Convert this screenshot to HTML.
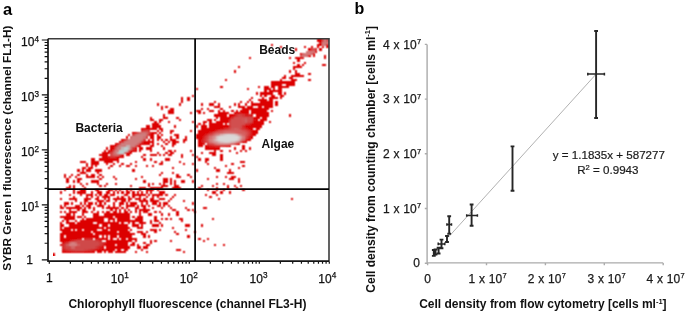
<!DOCTYPE html>
<html><head><meta charset="utf-8"><title>Flow cytometry figure</title>
<style>html,body{margin:0;padding:0;background:#fff;}svg{display:block;}</style></head>
<body><svg width="685" height="313" viewBox="0 0 685 313" font-family="Liberation Sans, Arial, sans-serif">
<rect width="685" height="313" fill="#fff"/>
<defs><filter id="bl" x="0" y="0" width="1" height="1"><feConvolveMatrix order="3" kernelMatrix="1 2 1 2 4 2 1 2 1" divisor="16" edgeMode="duplicate"/></filter></defs>
<g shape-rendering="crispEdges" filter="url(#bl)">
<path d="M317.2 39.6h4.4v2.2h-4.4zM271.0 44.0h2.2v2.2h-2.2zM317.2 44.0h4.4v2.2h-4.4zM279.8 46.2h2.2v2.2h-2.2zM304.0 46.2h2.2v2.2h-2.2zM310.6 46.2h2.2v2.2h-2.2zM317.2 46.2h2.2v2.2h-2.2zM321.6 46.2h2.2v2.2h-2.2zM326.0 46.2h2.2v2.2h-2.2zM295.2 48.4h2.2v2.2h-2.2zM308.4 48.4h2.2v2.2h-2.2zM319.4 48.4h2.2v2.2h-2.2zM315.0 50.6h2.2v2.2h-2.2zM299.6 52.8h2.2v2.2h-2.2zM312.8 52.8h2.2v2.2h-2.2zM308.4 55.0h2.2v2.2h-2.2zM312.8 55.0h2.2v2.2h-2.2zM323.8 55.0h2.2v2.2h-2.2zM249.0 57.2h2.2v2.2h-2.2zM288.6 57.2h2.2v2.2h-2.2zM295.2 57.2h4.4v2.2h-4.4zM323.8 57.2h2.2v2.2h-2.2zM297.4 59.4h2.2v2.2h-2.2zM293.0 61.6h2.2v2.2h-2.2zM304.0 61.6h2.2v2.2h-2.2zM297.4 63.8h2.2v2.2h-2.2zM301.8 63.8h2.2v2.2h-2.2zM321.6 63.8h4.4v2.2h-4.4zM238.0 66.0h2.2v2.2h-2.2zM293.0 66.0h8.8v2.2h-8.8zM293.0 68.2h2.2v2.2h-2.2zM233.6 70.4h2.2v2.2h-2.2zM288.6 70.4h2.2v2.2h-2.2zM295.2 70.4h2.2v2.2h-2.2zM295.2 72.6h4.4v2.2h-4.4zM308.4 72.6h2.2v2.2h-2.2zM284.2 74.8h2.2v2.2h-2.2zM290.8 74.8h13.2v2.2h-13.2zM282.0 77.0h4.4v2.2h-4.4zM288.6 77.0h4.4v2.2h-4.4zM224.8 79.2h2.2v2.2h-2.2zM279.8 79.2h2.2v2.2h-2.2zM290.8 79.2h6.6v2.2h-6.6zM308.4 79.2h2.2v2.2h-2.2zM271.0 81.4h24.2v2.2h-24.2zM271.0 83.6h11.0v2.2h-11.0zM286.4 83.6h8.8v2.2h-8.8zM220.4 85.8h2.2v2.2h-2.2zM257.8 85.8h2.2v2.2h-2.2zM264.4 85.8h4.4v2.2h-4.4zM271.0 85.8h4.4v2.2h-4.4zM277.6 85.8h11.0v2.2h-11.0zM196.2 88.0h2.2v2.2h-2.2zM246.8 88.0h2.2v2.2h-2.2zM264.4 88.0h6.6v2.2h-6.6zM273.2 88.0h2.2v2.2h-2.2zM277.6 88.0h4.4v2.2h-4.4zM264.4 90.2h2.2v2.2h-2.2zM268.8 90.2h13.2v2.2h-13.2zM255.6 92.4h2.2v2.2h-2.2zM260.0 92.4h13.2v2.2h-13.2zM277.6 92.4h4.4v2.2h-4.4zM284.2 92.4h2.2v2.2h-2.2zM191.8 94.6h2.2v2.2h-2.2zM260.0 94.6h2.2v2.2h-2.2zM264.4 94.6h2.2v2.2h-2.2zM271.0 94.6h4.4v2.2h-4.4zM279.8 94.6h4.4v2.2h-4.4zM180.8 96.8h2.2v2.2h-2.2zM187.4 96.8h2.2v2.2h-2.2zM251.2 96.8h2.2v2.2h-2.2zM262.2 96.8h2.2v2.2h-2.2zM268.8 96.8h8.8v2.2h-8.8zM279.8 96.8h2.2v2.2h-2.2zM180.8 99.0h2.2v2.2h-2.2zM187.4 99.0h2.2v2.2h-2.2zM249.0 99.0h2.2v2.2h-2.2zM257.8 99.0h8.8v2.2h-8.8zM268.8 99.0h4.4v2.2h-4.4zM180.8 101.2h2.2v2.2h-2.2zM213.8 101.2h2.2v2.2h-2.2zM240.2 101.2h2.2v2.2h-2.2zM246.8 101.2h2.2v2.2h-2.2zM251.2 101.2h2.2v2.2h-2.2zM260.0 101.2h13.2v2.2h-13.2zM275.4 101.2h2.2v2.2h-2.2zM156.6 103.4h2.2v2.2h-2.2zM178.6 103.4h2.2v2.2h-2.2zM200.6 103.4h2.2v2.2h-2.2zM209.4 103.4h4.4v2.2h-4.4zM218.2 103.4h2.2v2.2h-2.2zM233.6 103.4h2.2v2.2h-2.2zM238.0 103.4h2.2v2.2h-2.2zM244.6 103.4h2.2v2.2h-2.2zM251.2 103.4h22.0v2.2h-22.0zM275.4 103.4h2.2v2.2h-2.2zM161.0 105.6h2.2v2.2h-2.2zM165.4 105.6h2.2v2.2h-2.2zM213.8 105.6h6.6v2.2h-6.6zM229.2 105.6h2.2v2.2h-2.2zM238.0 105.6h6.6v2.2h-6.6zM246.8 105.6h6.6v2.2h-6.6zM257.8 105.6h4.4v2.2h-4.4zM264.4 105.6h8.8v2.2h-8.8zM161.0 107.8h2.2v2.2h-2.2zM169.8 107.8h4.4v2.2h-4.4zM200.6 107.8h2.2v2.2h-2.2zM207.2 107.8h2.2v2.2h-2.2zM220.4 107.8h2.2v2.2h-2.2zM242.4 107.8h26.4v2.2h-26.4zM167.6 110.0h6.6v2.2h-6.6zM196.2 110.0h4.4v2.2h-4.4zM209.4 110.0h4.4v2.2h-4.4zM218.2 110.0h2.2v2.2h-2.2zM222.6 110.0h2.2v2.2h-2.2zM231.4 110.0h2.2v2.2h-2.2zM235.8 110.0h2.2v2.2h-2.2zM240.2 110.0h8.8v2.2h-8.8zM251.2 110.0h15.4v2.2h-15.4zM271.0 110.0h2.2v2.2h-2.2zM167.6 112.2h6.6v2.2h-6.6zM189.6 112.2h2.2v2.2h-2.2zM198.4 112.2h2.2v2.2h-2.2zM202.8 112.2h2.2v2.2h-2.2zM218.2 112.2h11.0v2.2h-11.0zM233.6 112.2h6.6v2.2h-6.6zM242.4 112.2h6.6v2.2h-6.6zM251.2 112.2h17.6v2.2h-17.6zM163.2 114.4h2.2v2.2h-2.2zM213.8 114.4h13.2v2.2h-13.2zM229.2 114.4h4.4v2.2h-4.4zM255.6 114.4h13.2v2.2h-13.2zM288.6 114.4h2.2v2.2h-2.2zM150.0 116.6h2.2v2.2h-2.2zM163.2 116.6h4.4v2.2h-4.4zM176.4 116.6h2.2v2.2h-2.2zM216.0 116.6h2.2v2.2h-2.2zM220.4 116.6h11.0v2.2h-11.0zM253.4 116.6h6.6v2.2h-6.6zM262.2 116.6h4.4v2.2h-4.4zM150.0 118.8h4.4v2.2h-4.4zM158.8 118.8h4.4v2.2h-4.4zM178.6 118.8h2.2v2.2h-2.2zM207.2 118.8h4.4v2.2h-4.4zM213.8 118.8h2.2v2.2h-2.2zM220.4 118.8h8.8v2.2h-8.8zM255.6 118.8h2.2v2.2h-2.2zM260.0 118.8h6.6v2.2h-6.6zM154.4 121.0h2.2v2.2h-2.2zM158.8 121.0h2.2v2.2h-2.2zM167.6 121.0h2.2v2.2h-2.2zM191.8 121.0h2.2v2.2h-2.2zM202.8 121.0h4.4v2.2h-4.4zM209.4 121.0h2.2v2.2h-2.2zM216.0 121.0h11.0v2.2h-11.0zM253.4 121.0h11.0v2.2h-11.0zM268.8 121.0h2.2v2.2h-2.2zM152.2 123.2h6.6v2.2h-6.6zM198.4 123.2h2.2v2.2h-2.2zM202.8 123.2h2.2v2.2h-2.2zM209.4 123.2h13.2v2.2h-13.2zM224.8 123.2h2.2v2.2h-2.2zM251.2 123.2h13.2v2.2h-13.2zM145.6 125.4h4.4v2.2h-4.4zM152.2 125.4h8.8v2.2h-8.8zM174.2 125.4h2.2v2.2h-2.2zM196.2 125.4h2.2v2.2h-2.2zM200.6 125.4h6.6v2.2h-6.6zM209.4 125.4h19.8v2.2h-19.8zM244.6 125.4h17.6v2.2h-17.6zM141.2 127.6h15.4v2.2h-15.4zM158.8 127.6h4.4v2.2h-4.4zM200.6 127.6h19.8v2.2h-19.8zM249.0 127.6h4.4v2.2h-4.4zM255.6 127.6h4.4v2.2h-4.4zM156.6 129.8h2.2v2.2h-2.2zM161.0 129.8h2.2v2.2h-2.2zM169.8 129.8h4.4v2.2h-4.4zM189.6 129.8h2.2v2.2h-2.2zM198.4 129.8h15.4v2.2h-15.4zM253.4 129.8h4.4v2.2h-4.4zM132.4 132.0h2.2v2.2h-2.2zM152.2 132.0h4.4v2.2h-4.4zM158.8 132.0h2.2v2.2h-2.2zM169.8 132.0h2.2v2.2h-2.2zM198.4 132.0h11.0v2.2h-11.0zM253.4 132.0h4.4v2.2h-4.4zM128.0 134.2h2.2v2.2h-2.2zM150.0 134.2h4.4v2.2h-4.4zM156.6 134.2h2.2v2.2h-2.2zM161.0 134.2h2.2v2.2h-2.2zM174.2 134.2h4.4v2.2h-4.4zM196.2 134.2h8.8v2.2h-8.8zM253.4 134.2h2.2v2.2h-2.2zM125.8 136.4h2.2v2.2h-2.2zM150.0 136.4h4.4v2.2h-4.4zM156.6 136.4h4.4v2.2h-4.4zM169.8 136.4h2.2v2.2h-2.2zM176.4 136.4h2.2v2.2h-2.2zM185.2 136.4h2.2v2.2h-2.2zM196.2 136.4h6.6v2.2h-6.6zM251.2 136.4h2.2v2.2h-2.2zM121.4 138.6h2.2v2.2h-2.2zM147.8 138.6h2.2v2.2h-2.2zM152.2 138.6h2.2v2.2h-2.2zM156.6 138.6h2.2v2.2h-2.2zM161.0 138.6h2.2v2.2h-2.2zM165.4 138.6h2.2v2.2h-2.2zM169.8 138.6h6.6v2.2h-6.6zM183.0 138.6h4.4v2.2h-4.4zM198.4 138.6h2.2v2.2h-2.2zM246.8 138.6h4.4v2.2h-4.4zM119.2 140.8h2.2v2.2h-2.2zM143.4 140.8h11.0v2.2h-11.0zM163.2 140.8h2.2v2.2h-2.2zM167.6 140.8h2.2v2.2h-2.2zM172.0 140.8h6.6v2.2h-6.6zM183.0 140.8h2.2v2.2h-2.2zM198.4 140.8h2.2v2.2h-2.2zM244.6 140.8h2.2v2.2h-2.2zM114.8 143.0h4.4v2.2h-4.4zM141.2 143.0h8.8v2.2h-8.8zM152.2 143.0h2.2v2.2h-2.2zM156.6 143.0h2.2v2.2h-2.2zM165.4 143.0h2.2v2.2h-2.2zM172.0 143.0h4.4v2.2h-4.4zM198.4 143.0h4.4v2.2h-4.4zM238.0 143.0h2.2v2.2h-2.2zM110.4 145.2h6.6v2.2h-6.6zM136.8 145.2h4.4v2.2h-4.4zM150.0 145.2h4.4v2.2h-4.4zM161.0 145.2h2.2v2.2h-2.2zM172.0 145.2h2.2v2.2h-2.2zM198.4 145.2h4.4v2.2h-4.4zM205.0 145.2h2.2v2.2h-2.2zM229.2 145.2h2.2v2.2h-2.2zM242.4 145.2h2.2v2.2h-2.2zM106.0 147.4h2.2v2.2h-2.2zM110.4 147.4h2.2v2.2h-2.2zM134.6 147.4h2.2v2.2h-2.2zM139.0 147.4h4.4v2.2h-4.4zM145.6 147.4h6.6v2.2h-6.6zM163.2 147.4h2.2v2.2h-2.2zM205.0 147.4h15.4v2.2h-15.4zM233.6 147.4h2.2v2.2h-2.2zM242.4 147.4h2.2v2.2h-2.2zM249.0 147.4h2.2v2.2h-2.2zM103.8 149.6h2.2v2.2h-2.2zM108.2 149.6h2.2v2.2h-2.2zM130.2 149.6h6.6v2.2h-6.6zM139.0 149.6h2.2v2.2h-2.2zM150.0 149.6h2.2v2.2h-2.2zM167.6 149.6h4.4v2.2h-4.4zM174.2 149.6h2.2v2.2h-2.2zM189.6 149.6h2.2v2.2h-2.2zM213.8 149.6h2.2v2.2h-2.2zM220.4 149.6h2.2v2.2h-2.2zM229.2 149.6h2.2v2.2h-2.2zM240.2 149.6h2.2v2.2h-2.2zM244.6 149.6h2.2v2.2h-2.2zM101.6 151.8h8.8v2.2h-8.8zM128.0 151.8h4.4v2.2h-4.4zM156.6 151.8h2.2v2.2h-2.2zM165.4 151.8h2.2v2.2h-2.2zM169.8 151.8h4.4v2.2h-4.4zM200.6 151.8h2.2v2.2h-2.2zM209.4 151.8h6.6v2.2h-6.6zM235.8 151.8h2.2v2.2h-2.2zM99.4 154.0h8.8v2.2h-8.8zM125.8 154.0h4.4v2.2h-4.4zM143.4 154.0h2.2v2.2h-2.2zM150.0 154.0h6.6v2.2h-6.6zM158.8 154.0h2.2v2.2h-2.2zM163.2 154.0h2.2v2.2h-2.2zM167.6 154.0h4.4v2.2h-4.4zM180.8 154.0h2.2v2.2h-2.2zM191.8 154.0h2.2v2.2h-2.2zM211.6 154.0h4.4v2.2h-4.4zM220.4 154.0h2.2v2.2h-2.2zM101.6 156.2h6.6v2.2h-6.6zM117.0 156.2h6.6v2.2h-6.6zM141.2 156.2h2.2v2.2h-2.2zM180.8 156.2h2.2v2.2h-2.2zM196.2 156.2h2.2v2.2h-2.2zM220.4 156.2h2.2v2.2h-2.2zM90.6 158.4h4.4v2.2h-4.4zM99.4 158.4h19.8v2.2h-19.8zM143.4 158.4h2.2v2.2h-2.2zM150.0 158.4h2.2v2.2h-2.2zM165.4 158.4h4.4v2.2h-4.4zM198.4 158.4h2.2v2.2h-2.2zM205.0 158.4h4.4v2.2h-4.4zM220.4 158.4h2.2v2.2h-2.2zM79.6 160.6h6.6v2.2h-6.6zM90.6 160.6h8.8v2.2h-8.8zM103.8 160.6h8.8v2.2h-8.8zM117.0 160.6h2.2v2.2h-2.2zM134.6 160.6h2.2v2.2h-2.2zM154.4 160.6h2.2v2.2h-2.2zM161.0 160.6h2.2v2.2h-2.2zM178.6 160.6h2.2v2.2h-2.2zM205.0 160.6h2.2v2.2h-2.2zM240.2 160.6h4.4v2.2h-4.4zM86.2 162.8h2.2v2.2h-2.2zM90.6 162.8h8.8v2.2h-8.8zM106.0 162.8h2.2v2.2h-2.2zM112.6 162.8h2.2v2.2h-2.2zM121.4 162.8h2.2v2.2h-2.2zM130.2 162.8h2.2v2.2h-2.2zM158.8 162.8h4.4v2.2h-4.4zM183.0 162.8h2.2v2.2h-2.2zM191.8 162.8h2.2v2.2h-2.2zM207.2 162.8h2.2v2.2h-2.2zM231.4 162.8h2.2v2.2h-2.2zM86.2 165.0h2.2v2.2h-2.2zM90.6 165.0h2.2v2.2h-2.2zM95.0 165.0h2.2v2.2h-2.2zM110.4 165.0h2.2v2.2h-2.2zM119.2 165.0h2.2v2.2h-2.2zM125.8 165.0h4.4v2.2h-4.4zM134.6 165.0h2.2v2.2h-2.2zM145.6 165.0h2.2v2.2h-2.2zM152.2 165.0h2.2v2.2h-2.2zM224.8 165.0h2.2v2.2h-2.2zM242.4 165.0h2.2v2.2h-2.2zM81.8 167.2h4.4v2.2h-4.4zM88.4 167.2h4.4v2.2h-4.4zM108.2 167.2h2.2v2.2h-2.2zM172.0 167.2h2.2v2.2h-2.2zM213.8 167.2h2.2v2.2h-2.2zM238.0 167.2h2.2v2.2h-2.2zM77.4 169.4h2.2v2.2h-2.2zM81.8 169.4h2.2v2.2h-2.2zM86.2 169.4h4.4v2.2h-4.4zM95.0 169.4h6.6v2.2h-6.6zM132.4 169.4h2.2v2.2h-2.2zM196.2 169.4h2.2v2.2h-2.2zM216.0 169.4h4.4v2.2h-4.4zM229.2 169.4h2.2v2.2h-2.2zM79.6 171.6h6.6v2.2h-6.6zM97.2 171.6h2.2v2.2h-2.2zM161.0 171.6h2.2v2.2h-2.2zM172.0 171.6h2.2v2.2h-2.2zM227.0 171.6h6.6v2.2h-6.6zM64.2 173.8h2.2v2.2h-2.2zM70.8 173.8h2.2v2.2h-2.2zM77.4 173.8h2.2v2.2h-2.2zM86.2 173.8h2.2v2.2h-2.2zM90.6 173.8h4.4v2.2h-4.4zM99.4 173.8h2.2v2.2h-2.2zM158.8 173.8h2.2v2.2h-2.2zM176.4 173.8h2.2v2.2h-2.2zM187.4 173.8h2.2v2.2h-2.2zM64.2 176.0h2.2v2.2h-2.2zM68.6 176.0h2.2v2.2h-2.2zM75.2 176.0h2.2v2.2h-2.2zM86.2 176.0h8.8v2.2h-8.8zM97.2 176.0h2.2v2.2h-2.2zM101.6 176.0h2.2v2.2h-2.2zM112.6 176.0h2.2v2.2h-2.2zM141.2 176.0h2.2v2.2h-2.2zM176.4 176.0h4.4v2.2h-4.4zM189.6 176.0h2.2v2.2h-2.2zM216.0 176.0h2.2v2.2h-2.2zM224.8 176.0h2.2v2.2h-2.2zM231.4 176.0h4.4v2.2h-4.4zM66.4 178.2h2.2v2.2h-2.2zM77.4 178.2h4.4v2.2h-4.4zM99.4 178.2h2.2v2.2h-2.2zM114.8 178.2h2.2v2.2h-2.2zM134.6 178.2h2.2v2.2h-2.2zM163.2 178.2h4.4v2.2h-4.4zM169.8 178.2h2.2v2.2h-2.2zM207.2 178.2h2.2v2.2h-2.2zM229.2 178.2h4.4v2.2h-4.4zM238.0 178.2h2.2v2.2h-2.2zM66.4 180.4h2.2v2.2h-2.2zM73.0 180.4h2.2v2.2h-2.2zM77.4 180.4h2.2v2.2h-2.2zM90.6 180.4h8.8v2.2h-8.8zM143.4 180.4h2.2v2.2h-2.2zM163.2 180.4h4.4v2.2h-4.4zM169.8 180.4h2.2v2.2h-2.2zM174.2 180.4h2.2v2.2h-2.2zM180.8 180.4h4.4v2.2h-4.4zM191.8 180.4h2.2v2.2h-2.2zM238.0 180.4h2.2v2.2h-2.2zM79.6 182.6h2.2v2.2h-2.2zM86.2 182.6h2.2v2.2h-2.2zM97.2 182.6h2.2v2.2h-2.2zM106.0 182.6h2.2v2.2h-2.2zM114.8 182.6h2.2v2.2h-2.2zM147.8 182.6h2.2v2.2h-2.2zM152.2 182.6h2.2v2.2h-2.2zM158.8 182.6h2.2v2.2h-2.2zM163.2 182.6h2.2v2.2h-2.2zM169.8 182.6h2.2v2.2h-2.2zM174.2 182.6h2.2v2.2h-2.2zM216.0 182.6h2.2v2.2h-2.2zM222.6 182.6h2.2v2.2h-2.2zM68.6 184.8h2.2v2.2h-2.2zM73.0 184.8h2.2v2.2h-2.2zM81.8 184.8h2.2v2.2h-2.2zM99.4 184.8h2.2v2.2h-2.2zM103.8 184.8h2.2v2.2h-2.2zM130.2 184.8h2.2v2.2h-2.2zM147.8 184.8h2.2v2.2h-2.2zM161.0 184.8h6.6v2.2h-6.6zM174.2 184.8h4.4v2.2h-4.4zM200.6 184.8h2.2v2.2h-2.2zM211.6 184.8h2.2v2.2h-2.2zM227.0 184.8h2.2v2.2h-2.2zM233.6 184.8h2.2v2.2h-2.2zM240.2 184.8h2.2v2.2h-2.2zM66.4 187.0h4.4v2.2h-4.4zM73.0 187.0h2.2v2.2h-2.2zM84.0 187.0h2.2v2.2h-2.2zM139.0 187.0h6.6v2.2h-6.6zM150.0 187.0h13.2v2.2h-13.2zM172.0 187.0h8.8v2.2h-8.8zM198.4 187.0h2.2v2.2h-2.2zM216.0 187.0h2.2v2.2h-2.2zM227.0 187.0h2.2v2.2h-2.2zM235.8 187.0h2.2v2.2h-2.2zM64.2 189.2h2.2v2.2h-2.2zM73.0 189.2h2.2v2.2h-2.2zM79.6 189.2h6.6v2.2h-6.6zM95.0 189.2h4.4v2.2h-4.4zM108.2 189.2h4.4v2.2h-4.4zM114.8 189.2h2.2v2.2h-2.2zM119.2 189.2h2.2v2.2h-2.2zM125.8 189.2h2.2v2.2h-2.2zM130.2 189.2h2.2v2.2h-2.2zM139.0 189.2h2.2v2.2h-2.2zM145.6 189.2h8.8v2.2h-8.8zM156.6 189.2h2.2v2.2h-2.2zM207.2 189.2h2.2v2.2h-2.2zM216.0 189.2h2.2v2.2h-2.2zM222.6 189.2h2.2v2.2h-2.2zM242.4 189.2h2.2v2.2h-2.2zM59.8 191.4h2.2v2.2h-2.2zM73.0 191.4h2.2v2.2h-2.2zM77.4 191.4h8.8v2.2h-8.8zM90.6 191.4h2.2v2.2h-2.2zM97.2 191.4h4.4v2.2h-4.4zM106.0 191.4h4.4v2.2h-4.4zM112.6 191.4h2.2v2.2h-2.2zM117.0 191.4h2.2v2.2h-2.2zM121.4 191.4h2.2v2.2h-2.2zM125.8 191.4h4.4v2.2h-4.4zM132.4 191.4h2.2v2.2h-2.2zM136.8 191.4h2.2v2.2h-2.2zM141.2 191.4h2.2v2.2h-2.2zM145.6 191.4h2.2v2.2h-2.2zM150.0 191.4h2.2v2.2h-2.2zM158.8 191.4h6.6v2.2h-6.6zM211.6 191.4h4.4v2.2h-4.4zM220.4 191.4h2.2v2.2h-2.2zM229.2 191.4h2.2v2.2h-2.2zM68.6 193.6h2.2v2.2h-2.2zM79.6 193.6h2.2v2.2h-2.2zM86.2 193.6h6.6v2.2h-6.6zM95.0 193.6h2.2v2.2h-2.2zM99.4 193.6h2.2v2.2h-2.2zM103.8 193.6h4.4v2.2h-4.4zM110.4 193.6h4.4v2.2h-4.4zM123.6 193.6h4.4v2.2h-4.4zM132.4 193.6h13.2v2.2h-13.2zM147.8 193.6h2.2v2.2h-2.2zM152.2 193.6h11.0v2.2h-11.0zM165.4 193.6h2.2v2.2h-2.2zM174.2 193.6h2.2v2.2h-2.2zM205.0 193.6h2.2v2.2h-2.2zM216.0 193.6h2.2v2.2h-2.2zM73.0 195.8h2.2v2.2h-2.2zM86.2 195.8h2.2v2.2h-2.2zM90.6 195.8h2.2v2.2h-2.2zM97.2 195.8h2.2v2.2h-2.2zM101.6 195.8h8.8v2.2h-8.8zM117.0 195.8h2.2v2.2h-2.2zM121.4 195.8h2.2v2.2h-2.2zM128.0 195.8h2.2v2.2h-2.2zM132.4 195.8h2.2v2.2h-2.2zM139.0 195.8h2.2v2.2h-2.2zM145.6 195.8h2.2v2.2h-2.2zM152.2 195.8h2.2v2.2h-2.2zM156.6 195.8h2.2v2.2h-2.2zM172.0 195.8h2.2v2.2h-2.2zM209.4 195.8h2.2v2.2h-2.2zM59.8 198.0h2.2v2.2h-2.2zM68.6 198.0h8.8v2.2h-8.8zM84.0 198.0h6.6v2.2h-6.6zM95.0 198.0h4.4v2.2h-4.4zM103.8 198.0h2.2v2.2h-2.2zM108.2 198.0h2.2v2.2h-2.2zM112.6 198.0h13.2v2.2h-13.2zM128.0 198.0h4.4v2.2h-4.4zM134.6 198.0h6.6v2.2h-6.6zM143.4 198.0h2.2v2.2h-2.2zM150.0 198.0h4.4v2.2h-4.4zM158.8 198.0h6.6v2.2h-6.6zM169.8 198.0h2.2v2.2h-2.2zM218.2 198.0h2.2v2.2h-2.2zM290.8 198.0h2.2v2.2h-2.2zM75.2 200.2h2.2v2.2h-2.2zM84.0 200.2h4.4v2.2h-4.4zM97.2 200.2h6.6v2.2h-6.6zM106.0 200.2h4.4v2.2h-4.4zM114.8 200.2h2.2v2.2h-2.2zM121.4 200.2h4.4v2.2h-4.4zM128.0 200.2h2.2v2.2h-2.2zM139.0 200.2h8.8v2.2h-8.8zM150.0 200.2h8.8v2.2h-8.8zM167.6 200.2h2.2v2.2h-2.2zM183.0 200.2h2.2v2.2h-2.2zM64.2 202.4h4.4v2.2h-4.4zM70.8 202.4h2.2v2.2h-2.2zM79.6 202.4h2.2v2.2h-2.2zM84.0 202.4h2.2v2.2h-2.2zM88.4 202.4h4.4v2.2h-4.4zM95.0 202.4h2.2v2.2h-2.2zM99.4 202.4h2.2v2.2h-2.2zM103.8 202.4h2.2v2.2h-2.2zM112.6 202.4h2.2v2.2h-2.2zM119.2 202.4h4.4v2.2h-4.4zM125.8 202.4h2.2v2.2h-2.2zM130.2 202.4h6.6v2.2h-6.6zM141.2 202.4h2.2v2.2h-2.2zM145.6 202.4h2.2v2.2h-2.2zM152.2 202.4h4.4v2.2h-4.4zM158.8 202.4h2.2v2.2h-2.2zM163.2 202.4h4.4v2.2h-4.4zM191.8 202.4h2.2v2.2h-2.2zM59.8 204.6h2.2v2.2h-2.2zM64.2 204.6h2.2v2.2h-2.2zM75.2 204.6h4.4v2.2h-4.4zM81.8 204.6h2.2v2.2h-2.2zM86.2 204.6h4.4v2.2h-4.4zM97.2 204.6h6.6v2.2h-6.6zM108.2 204.6h2.2v2.2h-2.2zM112.6 204.6h2.2v2.2h-2.2zM119.2 204.6h2.2v2.2h-2.2zM125.8 204.6h8.8v2.2h-8.8zM136.8 204.6h2.2v2.2h-2.2zM141.2 204.6h4.4v2.2h-4.4zM147.8 204.6h2.2v2.2h-2.2zM156.6 204.6h4.4v2.2h-4.4zM163.2 204.6h2.2v2.2h-2.2zM167.6 204.6h2.2v2.2h-2.2zM59.8 206.8h4.4v2.2h-4.4zM66.4 206.8h15.4v2.2h-15.4zM84.0 206.8h2.2v2.2h-2.2zM88.4 206.8h2.2v2.2h-2.2zM92.8 206.8h2.2v2.2h-2.2zM101.6 206.8h2.2v2.2h-2.2zM106.0 206.8h13.2v2.2h-13.2zM121.4 206.8h2.2v2.2h-2.2zM125.8 206.8h2.2v2.2h-2.2zM134.6 206.8h4.4v2.2h-4.4zM143.4 206.8h2.2v2.2h-2.2zM152.2 206.8h2.2v2.2h-2.2zM161.0 206.8h2.2v2.2h-2.2zM169.8 206.8h2.2v2.2h-2.2zM185.2 206.8h2.2v2.2h-2.2zM202.8 206.8h4.4v2.2h-4.4zM68.6 209.0h2.2v2.2h-2.2zM77.4 209.0h2.2v2.2h-2.2zM81.8 209.0h4.4v2.2h-4.4zM92.8 209.0h2.2v2.2h-2.2zM110.4 209.0h2.2v2.2h-2.2zM114.8 209.0h2.2v2.2h-2.2zM119.2 209.0h2.2v2.2h-2.2zM123.6 209.0h2.2v2.2h-2.2zM128.0 209.0h2.2v2.2h-2.2zM134.6 209.0h2.2v2.2h-2.2zM139.0 209.0h11.0v2.2h-11.0zM172.0 209.0h4.4v2.2h-4.4zM187.4 209.0h2.2v2.2h-2.2zM191.8 209.0h2.2v2.2h-2.2zM59.8 211.2h2.2v2.2h-2.2zM64.2 211.2h2.2v2.2h-2.2zM68.6 211.2h8.8v2.2h-8.8zM81.8 211.2h6.6v2.2h-6.6zM90.6 211.2h2.2v2.2h-2.2zM97.2 211.2h2.2v2.2h-2.2zM101.6 211.2h2.2v2.2h-2.2zM106.0 211.2h4.4v2.2h-4.4zM112.6 211.2h4.4v2.2h-4.4zM119.2 211.2h2.2v2.2h-2.2zM123.6 211.2h4.4v2.2h-4.4zM130.2 211.2h2.2v2.2h-2.2zM134.6 211.2h2.2v2.2h-2.2zM139.0 211.2h2.2v2.2h-2.2zM143.4 211.2h4.4v2.2h-4.4zM154.4 211.2h2.2v2.2h-2.2zM158.8 211.2h2.2v2.2h-2.2zM176.4 211.2h2.2v2.2h-2.2zM194.0 211.2h2.2v2.2h-2.2zM66.4 213.4h4.4v2.2h-4.4zM73.0 213.4h2.2v2.2h-2.2zM81.8 213.4h2.2v2.2h-2.2zM92.8 213.4h6.6v2.2h-6.6zM103.8 213.4h26.4v2.2h-26.4zM139.0 213.4h2.2v2.2h-2.2zM147.8 213.4h4.4v2.2h-4.4zM161.0 213.4h2.2v2.2h-2.2zM167.6 213.4h2.2v2.2h-2.2zM176.4 213.4h2.2v2.2h-2.2zM59.8 215.6h15.4v2.2h-15.4zM77.4 215.6h4.4v2.2h-4.4zM84.0 215.6h2.2v2.2h-2.2zM92.8 215.6h19.8v2.2h-19.8zM114.8 215.6h15.4v2.2h-15.4zM132.4 215.6h2.2v2.2h-2.2zM136.8 215.6h6.6v2.2h-6.6zM154.4 215.6h2.2v2.2h-2.2zM64.2 217.8h11.0v2.2h-11.0zM81.8 217.8h2.2v2.2h-2.2zM86.2 217.8h17.6v2.2h-17.6zM108.2 217.8h6.6v2.2h-6.6zM117.0 217.8h13.2v2.2h-13.2zM134.6 217.8h8.8v2.2h-8.8zM154.4 217.8h2.2v2.2h-2.2zM161.0 217.8h2.2v2.2h-2.2zM165.4 217.8h2.2v2.2h-2.2zM169.8 217.8h2.2v2.2h-2.2zM178.6 217.8h4.4v2.2h-4.4zM211.6 217.8h2.2v2.2h-2.2zM62.0 220.0h2.2v2.2h-2.2zM66.4 220.0h2.2v2.2h-2.2zM75.2 220.0h2.2v2.2h-2.2zM79.6 220.0h24.2v2.2h-24.2zM108.2 220.0h2.2v2.2h-2.2zM112.6 220.0h2.2v2.2h-2.2zM117.0 220.0h26.4v2.2h-26.4zM150.0 220.0h2.2v2.2h-2.2zM154.4 220.0h4.4v2.2h-4.4zM180.8 220.0h2.2v2.2h-2.2zM59.8 222.2h2.2v2.2h-2.2zM66.4 222.2h8.8v2.2h-8.8zM77.4 222.2h15.4v2.2h-15.4zM97.2 222.2h22.0v2.2h-22.0zM121.4 222.2h2.2v2.2h-2.2zM128.0 222.2h2.2v2.2h-2.2zM132.4 222.2h2.2v2.2h-2.2zM139.0 222.2h6.6v2.2h-6.6zM150.0 222.2h2.2v2.2h-2.2zM158.8 222.2h2.2v2.2h-2.2zM59.8 224.4h4.4v2.2h-4.4zM68.6 224.4h30.8v2.2h-30.8zM101.6 224.4h6.6v2.2h-6.6zM110.4 224.4h17.6v2.2h-17.6zM132.4 224.4h6.6v2.2h-6.6zM141.2 224.4h2.2v2.2h-2.2zM152.2 224.4h6.6v2.2h-6.6zM161.0 224.4h2.2v2.2h-2.2zM185.2 224.4h4.4v2.2h-4.4zM200.6 224.4h2.2v2.2h-2.2zM59.8 226.6h2.2v2.2h-2.2zM64.2 226.6h39.6v2.2h-39.6zM106.0 226.6h24.2v2.2h-24.2zM136.8 226.6h6.6v2.2h-6.6zM172.0 226.6h2.2v2.2h-2.2zM59.8 228.8h11.0v2.2h-11.0zM73.0 228.8h2.2v2.2h-2.2zM77.4 228.8h4.4v2.2h-4.4zM84.0 228.8h13.2v2.2h-13.2zM101.6 228.8h6.6v2.2h-6.6zM110.4 228.8h17.6v2.2h-17.6zM130.2 228.8h2.2v2.2h-2.2zM150.0 228.8h6.6v2.2h-6.6zM158.8 228.8h2.2v2.2h-2.2zM185.2 228.8h2.2v2.2h-2.2zM62.0 231.0h28.6v2.2h-28.6zM92.8 231.0h24.2v2.2h-24.2zM119.2 231.0h11.0v2.2h-11.0zM136.8 231.0h6.6v2.2h-6.6zM145.6 231.0h2.2v2.2h-2.2zM154.4 231.0h2.2v2.2h-2.2zM174.2 231.0h2.2v2.2h-2.2zM194.0 231.0h2.2v2.2h-2.2zM59.8 233.2h33.0v2.2h-33.0zM95.0 233.2h39.6v2.2h-39.6zM141.2 233.2h4.4v2.2h-4.4zM176.4 233.2h2.2v2.2h-2.2zM59.8 235.4h4.4v2.2h-4.4zM66.4 235.4h33.0v2.2h-33.0zM101.6 235.4h2.2v2.2h-2.2zM106.0 235.4h2.2v2.2h-2.2zM110.4 235.4h6.6v2.2h-6.6zM119.2 235.4h13.2v2.2h-13.2zM143.4 235.4h2.2v2.2h-2.2zM147.8 235.4h2.2v2.2h-2.2zM187.4 235.4h2.2v2.2h-2.2zM59.8 237.6h17.6v2.2h-17.6zM99.4 237.6h8.8v2.2h-8.8zM110.4 237.6h2.2v2.2h-2.2zM117.0 237.6h2.2v2.2h-2.2zM121.4 237.6h4.4v2.2h-4.4zM128.0 237.6h8.8v2.2h-8.8zM198.4 237.6h2.2v2.2h-2.2zM207.2 237.6h2.2v2.2h-2.2zM59.8 239.8h8.8v2.2h-8.8zM106.0 239.8h26.4v2.2h-26.4zM134.6 239.8h2.2v2.2h-2.2zM150.0 239.8h2.2v2.2h-2.2zM154.4 239.8h2.2v2.2h-2.2zM169.8 239.8h2.2v2.2h-2.2zM202.8 239.8h2.2v2.2h-2.2zM106.0 242.0h22.0v2.2h-22.0zM132.4 242.0h2.2v2.2h-2.2zM143.4 242.0h2.2v2.2h-2.2zM150.0 242.0h2.2v2.2h-2.2zM106.0 244.2h8.8v2.2h-8.8zM117.0 244.2h11.0v2.2h-11.0zM130.2 244.2h4.4v2.2h-4.4zM136.8 244.2h2.2v2.2h-2.2zM145.6 244.2h4.4v2.2h-4.4zM213.8 244.2h2.2v2.2h-2.2zM222.6 244.2h2.2v2.2h-2.2zM101.6 246.4h2.2v2.2h-2.2zM106.0 246.4h24.2v2.2h-24.2zM136.8 246.4h4.4v2.2h-4.4zM143.4 246.4h4.4v2.2h-4.4zM97.2 248.6h17.6v2.2h-17.6zM117.0 248.6h4.4v2.2h-4.4zM123.6 248.6h4.4v2.2h-4.4zM141.2 248.6h2.2v2.2h-2.2zM176.4 248.6h4.4v2.2h-4.4zM62.0 250.8h8.8v2.2h-8.8zM84.0 250.8h11.0v2.2h-11.0zM97.2 250.8h4.4v2.2h-4.4zM103.8 250.8h2.2v2.2h-2.2zM108.2 250.8h4.4v2.2h-4.4zM114.8 250.8h11.0v2.2h-11.0zM134.6 250.8h2.2v2.2h-2.2zM145.6 250.8h2.2v2.2h-2.2zM183.0 250.8h2.2v2.2h-2.2zM53.2 253.0h2.2v2.2h-2.2z" fill="#dc0000"/>
<rect x="321.6" y="39.6" width="2.2" height="2.2" fill="#d44b4b"/>
<rect x="323.8" y="39.6" width="2.2" height="2.2" fill="#d07878"/>
<rect x="326.0" y="39.6" width="2.2" height="2.2" fill="#d25a5a"/>
<rect x="319.4" y="41.8" width="2.2" height="2.2" fill="#d91616"/>
<rect x="321.6" y="41.8" width="2.2" height="2.2" fill="#d07878"/>
<rect x="323.8" y="41.8" width="2.2" height="2.2" fill="#d07878"/>
<rect x="326.0" y="41.8" width="2.2" height="2.2" fill="#d07878"/>
<rect x="321.6" y="44.0" width="2.2" height="2.2" fill="#d07878"/>
<rect x="323.8" y="44.0" width="2.2" height="2.2" fill="#d07878"/>
<rect x="326.0" y="44.0" width="2.2" height="2.2" fill="#d82626"/>
<rect x="310.6" y="48.4" width="2.2" height="2.2" fill="#d74444"/>
<rect x="312.8" y="48.4" width="2.2" height="2.2" fill="#d65555"/>
<rect x="315.0" y="48.4" width="2.2" height="2.2" fill="#d83030"/>
<rect x="306.2" y="50.6" width="2.2" height="2.2" fill="#d47878"/>
<rect x="308.4" y="50.6" width="2.2" height="2.2" fill="#d47878"/>
<rect x="310.6" y="50.6" width="2.2" height="2.2" fill="#d47878"/>
<rect x="312.8" y="50.6" width="2.2" height="2.2" fill="#d47676"/>
<rect x="301.8" y="52.8" width="2.2" height="2.2" fill="#d55e5e"/>
<rect x="304.0" y="52.8" width="2.2" height="2.2" fill="#d47878"/>
<rect x="306.2" y="52.8" width="2.2" height="2.2" fill="#d47878"/>
<rect x="308.4" y="52.8" width="2.2" height="2.2" fill="#d47878"/>
<rect x="310.6" y="52.8" width="2.2" height="2.2" fill="#d46b6b"/>
<rect x="299.6" y="55.0" width="2.2" height="2.2" fill="#d65252"/>
<rect x="301.8" y="55.0" width="2.2" height="2.2" fill="#d47878"/>
<rect x="304.0" y="55.0" width="2.2" height="2.2" fill="#d47878"/>
<rect x="306.2" y="55.0" width="2.2" height="2.2" fill="#d46d6d"/>
<rect x="299.6" y="57.2" width="2.2" height="2.2" fill="#da1818"/>
<rect x="301.8" y="57.2" width="2.2" height="2.2" fill="#db0909"/>
<rect x="240.2" y="112.2" width="2.2" height="2.2" fill="#da0707"/>
<rect x="233.6" y="114.4" width="2.2" height="2.2" fill="#d71f1f"/>
<rect x="235.8" y="114.4" width="2.2" height="2.2" fill="#d43838"/>
<rect x="238.0" y="114.4" width="2.2" height="2.2" fill="#d34444"/>
<rect x="240.2" y="114.4" width="2.2" height="2.2" fill="#d34343"/>
<rect x="242.4" y="114.4" width="2.2" height="2.2" fill="#d43636"/>
<rect x="244.6" y="114.4" width="2.2" height="2.2" fill="#d81a1a"/>
<rect x="246.8" y="114.4" width="2.2" height="2.2" fill="#d71a1a"/>
<rect x="249.0" y="114.4" width="2.2" height="2.2" fill="#d52828"/>
<rect x="251.2" y="114.4" width="2.2" height="2.2" fill="#d90e0e"/>
<rect x="231.4" y="116.6" width="2.2" height="2.2" fill="#d52f2f"/>
<rect x="233.6" y="116.6" width="2.2" height="2.2" fill="#d14f4f"/>
<rect x="235.8" y="116.6" width="2.2" height="2.2" fill="#d15050"/>
<rect x="238.0" y="116.6" width="2.2" height="2.2" fill="#d15050"/>
<rect x="240.2" y="116.6" width="2.2" height="2.2" fill="#d15050"/>
<rect x="242.4" y="116.6" width="2.2" height="2.2" fill="#d15050"/>
<rect x="244.6" y="116.6" width="2.2" height="2.2" fill="#ce5555"/>
<rect x="246.8" y="116.6" width="2.2" height="2.2" fill="#cf4a4a"/>
<rect x="249.0" y="116.6" width="2.2" height="2.2" fill="#d04848"/>
<rect x="251.2" y="116.6" width="2.2" height="2.2" fill="#d04747"/>
<rect x="229.2" y="118.8" width="2.2" height="2.2" fill="#d62828"/>
<rect x="231.4" y="118.8" width="2.2" height="2.2" fill="#d15050"/>
<rect x="233.6" y="118.8" width="2.2" height="2.2" fill="#d15050"/>
<rect x="235.8" y="118.8" width="2.2" height="2.2" fill="#d15050"/>
<rect x="238.0" y="118.8" width="2.2" height="2.2" fill="#d15050"/>
<rect x="240.2" y="118.8" width="2.2" height="2.2" fill="#d15050"/>
<rect x="242.4" y="118.8" width="2.2" height="2.2" fill="#d05454"/>
<rect x="244.6" y="118.8" width="2.2" height="2.2" fill="#cc6262"/>
<rect x="246.8" y="118.8" width="2.2" height="2.2" fill="#cf4e4e"/>
<rect x="249.0" y="118.8" width="2.2" height="2.2" fill="#d04848"/>
<rect x="251.2" y="118.8" width="2.2" height="2.2" fill="#d04848"/>
<rect x="253.4" y="118.8" width="2.2" height="2.2" fill="#d90e0e"/>
<rect x="227.0" y="121.0" width="2.2" height="2.2" fill="#db0404"/>
<rect x="229.2" y="121.0" width="2.2" height="2.2" fill="#d33e3e"/>
<rect x="231.4" y="121.0" width="2.2" height="2.2" fill="#d15050"/>
<rect x="233.6" y="121.0" width="2.2" height="2.2" fill="#d15050"/>
<rect x="235.8" y="121.0" width="2.2" height="2.2" fill="#d15050"/>
<rect x="238.0" y="121.0" width="2.2" height="2.2" fill="#d15050"/>
<rect x="240.2" y="121.0" width="2.2" height="2.2" fill="#d15050"/>
<rect x="242.4" y="121.0" width="2.2" height="2.2" fill="#d05252"/>
<rect x="244.6" y="121.0" width="2.2" height="2.2" fill="#cc6060"/>
<rect x="246.8" y="121.0" width="2.2" height="2.2" fill="#d04848"/>
<rect x="249.0" y="121.0" width="2.2" height="2.2" fill="#d04848"/>
<rect x="251.2" y="121.0" width="2.2" height="2.2" fill="#d23a3a"/>
<rect x="229.2" y="123.2" width="2.2" height="2.2" fill="#d34242"/>
<rect x="231.4" y="123.2" width="2.2" height="2.2" fill="#d15050"/>
<rect x="233.6" y="123.2" width="2.2" height="2.2" fill="#d15050"/>
<rect x="235.8" y="123.2" width="2.2" height="2.2" fill="#d15050"/>
<rect x="238.0" y="123.2" width="2.2" height="2.2" fill="#d15050"/>
<rect x="240.2" y="123.2" width="2.2" height="2.2" fill="#d15050"/>
<rect x="242.4" y="123.2" width="2.2" height="2.2" fill="#d14e4e"/>
<rect x="244.6" y="123.2" width="2.2" height="2.2" fill="#d43535"/>
<rect x="246.8" y="123.2" width="2.2" height="2.2" fill="#d42f2f"/>
<rect x="249.0" y="123.2" width="2.2" height="2.2" fill="#d62323"/>
<rect x="229.2" y="125.4" width="2.2" height="2.2" fill="#d43636"/>
<rect x="231.4" y="125.4" width="2.2" height="2.2" fill="#d15050"/>
<rect x="233.6" y="125.4" width="2.2" height="2.2" fill="#d15050"/>
<rect x="235.8" y="125.4" width="2.2" height="2.2" fill="#d15050"/>
<rect x="238.0" y="125.4" width="2.2" height="2.2" fill="#d15050"/>
<rect x="240.2" y="125.4" width="2.2" height="2.2" fill="#d24b4b"/>
<rect x="242.4" y="125.4" width="2.2" height="2.2" fill="#d62b2b"/>
<rect x="220.4" y="127.6" width="2.2" height="2.2" fill="#da0e0e"/>
<rect x="222.6" y="127.6" width="2.2" height="2.2" fill="#d92020"/>
<rect x="224.8" y="127.6" width="2.2" height="2.2" fill="#d82d2d"/>
<rect x="227.0" y="127.6" width="2.2" height="2.2" fill="#d83737"/>
<rect x="229.2" y="127.6" width="2.2" height="2.2" fill="#d54848"/>
<rect x="231.4" y="127.6" width="2.2" height="2.2" fill="#d25757"/>
<rect x="233.6" y="127.6" width="2.2" height="2.2" fill="#d15e5e"/>
<rect x="235.8" y="127.6" width="2.2" height="2.2" fill="#d15d5d"/>
<rect x="238.0" y="127.6" width="2.2" height="2.2" fill="#d25757"/>
<rect x="240.2" y="127.6" width="2.2" height="2.2" fill="#d54747"/>
<rect x="242.4" y="127.6" width="2.2" height="2.2" fill="#d83333"/>
<rect x="244.6" y="127.6" width="2.2" height="2.2" fill="#d92828"/>
<rect x="246.8" y="127.6" width="2.2" height="2.2" fill="#da1919"/>
<rect x="141.2" y="129.8" width="2.2" height="2.2" fill="#d72d2d"/>
<rect x="143.4" y="129.8" width="2.2" height="2.2" fill="#d44343"/>
<rect x="145.6" y="129.8" width="2.2" height="2.2" fill="#d44747"/>
<rect x="147.8" y="129.8" width="2.2" height="2.2" fill="#d53b3b"/>
<rect x="213.8" y="129.8" width="2.2" height="2.2" fill="#da1919"/>
<rect x="216.0" y="129.8" width="2.2" height="2.2" fill="#d82f2f"/>
<rect x="218.2" y="129.8" width="2.2" height="2.2" fill="#d74040"/>
<rect x="220.4" y="129.8" width="2.2" height="2.2" fill="#d64d4d"/>
<rect x="222.6" y="129.8" width="2.2" height="2.2" fill="#d55858"/>
<rect x="224.8" y="129.8" width="2.2" height="2.2" fill="#d55e5e"/>
<rect x="227.0" y="129.8" width="2.2" height="2.2" fill="#d55e5e"/>
<rect x="229.2" y="129.8" width="2.2" height="2.2" fill="#d55e5e"/>
<rect x="231.4" y="129.8" width="2.2" height="2.2" fill="#d55e5e"/>
<rect x="233.6" y="129.8" width="2.2" height="2.2" fill="#d55e5e"/>
<rect x="235.8" y="129.8" width="2.2" height="2.2" fill="#d55e5e"/>
<rect x="238.0" y="129.8" width="2.2" height="2.2" fill="#d55e5e"/>
<rect x="240.2" y="129.8" width="2.2" height="2.2" fill="#d55d5d"/>
<rect x="242.4" y="129.8" width="2.2" height="2.2" fill="#d65353"/>
<rect x="244.6" y="129.8" width="2.2" height="2.2" fill="#d74747"/>
<rect x="246.8" y="129.8" width="2.2" height="2.2" fill="#d83838"/>
<rect x="249.0" y="129.8" width="2.2" height="2.2" fill="#d92626"/>
<rect x="251.2" y="129.8" width="2.2" height="2.2" fill="#db0c0c"/>
<rect x="134.6" y="132.0" width="2.2" height="2.2" fill="#db0808"/>
<rect x="136.8" y="132.0" width="2.2" height="2.2" fill="#d44343"/>
<rect x="139.0" y="132.0" width="2.2" height="2.2" fill="#d16363"/>
<rect x="141.2" y="132.0" width="2.2" height="2.2" fill="#cf7272"/>
<rect x="143.4" y="132.0" width="2.2" height="2.2" fill="#cf7272"/>
<rect x="145.6" y="132.0" width="2.2" height="2.2" fill="#d16464"/>
<rect x="147.8" y="132.0" width="2.2" height="2.2" fill="#d44545"/>
<rect x="150.0" y="132.0" width="2.2" height="2.2" fill="#da0c0c"/>
<rect x="209.4" y="132.0" width="2.2" height="2.2" fill="#d92424"/>
<rect x="211.6" y="132.0" width="2.2" height="2.2" fill="#d73b3b"/>
<rect x="213.8" y="132.0" width="2.2" height="2.2" fill="#d64d4d"/>
<rect x="216.0" y="132.0" width="2.2" height="2.2" fill="#d55c5c"/>
<rect x="218.2" y="132.0" width="2.2" height="2.2" fill="#d55e5e"/>
<rect x="220.4" y="132.0" width="2.2" height="2.2" fill="#d56363"/>
<rect x="222.6" y="132.0" width="2.2" height="2.2" fill="#d56f6f"/>
<rect x="224.8" y="132.0" width="2.2" height="2.2" fill="#d67575"/>
<rect x="227.0" y="132.0" width="2.2" height="2.2" fill="#d67979"/>
<rect x="229.2" y="132.0" width="2.2" height="2.2" fill="#d67979"/>
<rect x="231.4" y="132.0" width="2.2" height="2.2" fill="#d67676"/>
<rect x="233.6" y="132.0" width="2.2" height="2.2" fill="#d56f6f"/>
<rect x="235.8" y="132.0" width="2.2" height="2.2" fill="#d56464"/>
<rect x="238.0" y="132.0" width="2.2" height="2.2" fill="#d55e5e"/>
<rect x="240.2" y="132.0" width="2.2" height="2.2" fill="#d55e5e"/>
<rect x="242.4" y="132.0" width="2.2" height="2.2" fill="#d55e5e"/>
<rect x="244.6" y="132.0" width="2.2" height="2.2" fill="#d65656"/>
<rect x="246.8" y="132.0" width="2.2" height="2.2" fill="#d74545"/>
<rect x="249.0" y="132.0" width="2.2" height="2.2" fill="#d83131"/>
<rect x="251.2" y="132.0" width="2.2" height="2.2" fill="#da1717"/>
<rect x="132.4" y="134.2" width="2.2" height="2.2" fill="#d44646"/>
<rect x="134.6" y="134.2" width="2.2" height="2.2" fill="#cf7171"/>
<rect x="136.8" y="134.2" width="2.2" height="2.2" fill="#ce7e7e"/>
<rect x="139.0" y="134.2" width="2.2" height="2.2" fill="#ce7e7e"/>
<rect x="141.2" y="134.2" width="2.2" height="2.2" fill="#ce7e7e"/>
<rect x="143.4" y="134.2" width="2.2" height="2.2" fill="#ce7e7e"/>
<rect x="145.6" y="134.2" width="2.2" height="2.2" fill="#d15f5f"/>
<rect x="147.8" y="134.2" width="2.2" height="2.2" fill="#d72a2a"/>
<rect x="205.0" y="134.2" width="2.2" height="2.2" fill="#da1c1c"/>
<rect x="207.2" y="134.2" width="2.2" height="2.2" fill="#d83636"/>
<rect x="209.4" y="134.2" width="2.2" height="2.2" fill="#d64b4b"/>
<rect x="211.6" y="134.2" width="2.2" height="2.2" fill="#d55d5d"/>
<rect x="213.8" y="134.2" width="2.2" height="2.2" fill="#d67676"/>
<rect x="216.0" y="134.2" width="2.2" height="2.2" fill="#d68787"/>
<rect x="218.2" y="134.2" width="2.2" height="2.2" fill="#d69393"/>
<rect x="220.4" y="134.2" width="2.2" height="2.2" fill="#d8b4b4"/>
<rect x="222.6" y="134.2" width="2.2" height="2.2" fill="#d8c4c4"/>
<rect x="224.8" y="134.2" width="2.2" height="2.2" fill="#d9cece"/>
<rect x="227.0" y="134.2" width="2.2" height="2.2" fill="#d9d3d3"/>
<rect x="229.2" y="134.2" width="2.2" height="2.2" fill="#d9d3d3"/>
<rect x="231.4" y="134.2" width="2.2" height="2.2" fill="#d9cfcf"/>
<rect x="233.6" y="134.2" width="2.2" height="2.2" fill="#d9c7c7"/>
<rect x="235.8" y="134.2" width="2.2" height="2.2" fill="#d8b5b5"/>
<rect x="238.0" y="134.2" width="2.2" height="2.2" fill="#d68f8f"/>
<rect x="240.2" y="134.2" width="2.2" height="2.2" fill="#d67c7c"/>
<rect x="242.4" y="134.2" width="2.2" height="2.2" fill="#d56666"/>
<rect x="244.6" y="134.2" width="2.2" height="2.2" fill="#d65555"/>
<rect x="246.8" y="134.2" width="2.2" height="2.2" fill="#d74242"/>
<rect x="249.0" y="134.2" width="2.2" height="2.2" fill="#d92b2b"/>
<rect x="251.2" y="134.2" width="2.2" height="2.2" fill="#db0c0c"/>
<rect x="130.2" y="136.4" width="2.2" height="2.2" fill="#d06f6f"/>
<rect x="132.4" y="136.4" width="2.2" height="2.2" fill="#ce7e7e"/>
<rect x="134.6" y="136.4" width="2.2" height="2.2" fill="#ce7e7e"/>
<rect x="136.8" y="136.4" width="2.2" height="2.2" fill="#ce7e7e"/>
<rect x="139.0" y="136.4" width="2.2" height="2.2" fill="#ce7e7e"/>
<rect x="141.2" y="136.4" width="2.2" height="2.2" fill="#ce7e7e"/>
<rect x="143.4" y="136.4" width="2.2" height="2.2" fill="#d06f6f"/>
<rect x="145.6" y="136.4" width="2.2" height="2.2" fill="#d53939"/>
<rect x="202.8" y="136.4" width="2.2" height="2.2" fill="#d92020"/>
<rect x="205.0" y="136.4" width="2.2" height="2.2" fill="#d83a3a"/>
<rect x="207.2" y="136.4" width="2.2" height="2.2" fill="#d64f4f"/>
<rect x="209.4" y="136.4" width="2.2" height="2.2" fill="#d57171"/>
<rect x="211.6" y="136.4" width="2.2" height="2.2" fill="#d68787"/>
<rect x="213.8" y="136.4" width="2.2" height="2.2" fill="#d69898"/>
<rect x="216.0" y="136.4" width="2.2" height="2.2" fill="#d8bfbf"/>
<rect x="218.2" y="136.4" width="2.2" height="2.2" fill="#d9d4d4"/>
<rect x="220.4" y="136.4" width="2.2" height="2.2" fill="#dad8d8"/>
<rect x="222.6" y="136.4" width="2.2" height="2.2" fill="#dad8d8"/>
<rect x="224.8" y="136.4" width="2.2" height="2.2" fill="#dad8d8"/>
<rect x="227.0" y="136.4" width="2.2" height="2.2" fill="#dad8d8"/>
<rect x="229.2" y="136.4" width="2.2" height="2.2" fill="#dad8d8"/>
<rect x="231.4" y="136.4" width="2.2" height="2.2" fill="#dad8d8"/>
<rect x="233.6" y="136.4" width="2.2" height="2.2" fill="#dad8d8"/>
<rect x="235.8" y="136.4" width="2.2" height="2.2" fill="#dad8d8"/>
<rect x="238.0" y="136.4" width="2.2" height="2.2" fill="#d9c6c6"/>
<rect x="240.2" y="136.4" width="2.2" height="2.2" fill="#d7a1a1"/>
<rect x="242.4" y="136.4" width="2.2" height="2.2" fill="#d67a7a"/>
<rect x="244.6" y="136.4" width="2.2" height="2.2" fill="#d74c4c"/>
<rect x="246.8" y="136.4" width="2.2" height="2.2" fill="#d82f2f"/>
<rect x="249.0" y="136.4" width="2.2" height="2.2" fill="#da1212"/>
<rect x="123.6" y="138.6" width="2.2" height="2.2" fill="#da1111"/>
<rect x="125.8" y="138.6" width="2.2" height="2.2" fill="#d25c5c"/>
<rect x="128.0" y="138.6" width="2.2" height="2.2" fill="#ce7e7e"/>
<rect x="130.2" y="138.6" width="2.2" height="2.2" fill="#ce7e7e"/>
<rect x="132.4" y="138.6" width="2.2" height="2.2" fill="#ce7e7e"/>
<rect x="134.6" y="138.6" width="2.2" height="2.2" fill="#ce7e7e"/>
<rect x="136.8" y="138.6" width="2.2" height="2.2" fill="#ce7e7e"/>
<rect x="139.0" y="138.6" width="2.2" height="2.2" fill="#ce7e7e"/>
<rect x="141.2" y="138.6" width="2.2" height="2.2" fill="#cf7676"/>
<rect x="143.4" y="138.6" width="2.2" height="2.2" fill="#d53c3c"/>
<rect x="200.6" y="138.6" width="2.2" height="2.2" fill="#da1414"/>
<rect x="202.8" y="138.6" width="2.2" height="2.2" fill="#d83030"/>
<rect x="205.0" y="138.6" width="2.2" height="2.2" fill="#d74545"/>
<rect x="207.2" y="138.6" width="2.2" height="2.2" fill="#d65e5e"/>
<rect x="209.4" y="138.6" width="2.2" height="2.2" fill="#d67f7f"/>
<rect x="211.6" y="138.6" width="2.2" height="2.2" fill="#d69292"/>
<rect x="213.8" y="138.6" width="2.2" height="2.2" fill="#d7adad"/>
<rect x="216.0" y="138.6" width="2.2" height="2.2" fill="#d9c7c7"/>
<rect x="218.2" y="138.6" width="2.2" height="2.2" fill="#dad8d8"/>
<rect x="220.4" y="138.6" width="2.2" height="2.2" fill="#dad8d8"/>
<rect x="222.6" y="138.6" width="2.2" height="2.2" fill="#dad8d8"/>
<rect x="224.8" y="138.6" width="2.2" height="2.2" fill="#dad8d8"/>
<rect x="227.0" y="138.6" width="2.2" height="2.2" fill="#dad8d8"/>
<rect x="229.2" y="138.6" width="2.2" height="2.2" fill="#dad8d8"/>
<rect x="231.4" y="138.6" width="2.2" height="2.2" fill="#dad8d8"/>
<rect x="233.6" y="138.6" width="2.2" height="2.2" fill="#dad8d8"/>
<rect x="235.8" y="138.6" width="2.2" height="2.2" fill="#d9d0d0"/>
<rect x="238.0" y="138.6" width="2.2" height="2.2" fill="#d8b9b9"/>
<rect x="240.2" y="138.6" width="2.2" height="2.2" fill="#d68989"/>
<rect x="242.4" y="138.6" width="2.2" height="2.2" fill="#d76565"/>
<rect x="244.6" y="138.6" width="2.2" height="2.2" fill="#d92424"/>
<rect x="121.4" y="140.8" width="2.2" height="2.2" fill="#d63636"/>
<rect x="123.6" y="140.8" width="2.2" height="2.2" fill="#cf7575"/>
<rect x="125.8" y="140.8" width="2.2" height="2.2" fill="#ce7e7e"/>
<rect x="128.0" y="140.8" width="2.2" height="2.2" fill="#ce7e7e"/>
<rect x="130.2" y="140.8" width="2.2" height="2.2" fill="#ce7e7e"/>
<rect x="132.4" y="140.8" width="2.2" height="2.2" fill="#ce7e7e"/>
<rect x="134.6" y="140.8" width="2.2" height="2.2" fill="#ce7e7e"/>
<rect x="136.8" y="140.8" width="2.2" height="2.2" fill="#ce7e7e"/>
<rect x="139.0" y="140.8" width="2.2" height="2.2" fill="#cf7474"/>
<rect x="141.2" y="140.8" width="2.2" height="2.2" fill="#d63535"/>
<rect x="200.6" y="140.8" width="2.2" height="2.2" fill="#da1515"/>
<rect x="202.8" y="140.8" width="2.2" height="2.2" fill="#d82e2e"/>
<rect x="205.0" y="140.8" width="2.2" height="2.2" fill="#d74141"/>
<rect x="207.2" y="140.8" width="2.2" height="2.2" fill="#d65151"/>
<rect x="209.4" y="140.8" width="2.2" height="2.2" fill="#d67373"/>
<rect x="211.6" y="140.8" width="2.2" height="2.2" fill="#d68686"/>
<rect x="213.8" y="140.8" width="2.2" height="2.2" fill="#d69595"/>
<rect x="216.0" y="140.8" width="2.2" height="2.2" fill="#d69d9d"/>
<rect x="218.2" y="140.8" width="2.2" height="2.2" fill="#d8b4b4"/>
<rect x="220.4" y="140.8" width="2.2" height="2.2" fill="#d8c2c2"/>
<rect x="222.6" y="140.8" width="2.2" height="2.2" fill="#d9caca"/>
<rect x="224.8" y="140.8" width="2.2" height="2.2" fill="#d9cece"/>
<rect x="227.0" y="140.8" width="2.2" height="2.2" fill="#d9cdcd"/>
<rect x="229.2" y="140.8" width="2.2" height="2.2" fill="#d9c7c7"/>
<rect x="231.4" y="140.8" width="2.2" height="2.2" fill="#d8bcbc"/>
<rect x="233.6" y="140.8" width="2.2" height="2.2" fill="#d7abab"/>
<rect x="235.8" y="140.8" width="2.2" height="2.2" fill="#d69090"/>
<rect x="238.0" y="140.8" width="2.2" height="2.2" fill="#d77676"/>
<rect x="240.2" y="140.8" width="2.2" height="2.2" fill="#d84949"/>
<rect x="242.4" y="140.8" width="2.2" height="2.2" fill="#db0606"/>
<rect x="119.2" y="143.0" width="2.2" height="2.2" fill="#d34c4c"/>
<rect x="121.4" y="143.0" width="2.2" height="2.2" fill="#ce7e7e"/>
<rect x="123.6" y="143.0" width="2.2" height="2.2" fill="#ce7e7e"/>
<rect x="125.8" y="143.0" width="2.2" height="2.2" fill="#ce7e7e"/>
<rect x="128.0" y="143.0" width="2.2" height="2.2" fill="#ce7e7e"/>
<rect x="130.2" y="143.0" width="2.2" height="2.2" fill="#ce7e7e"/>
<rect x="132.4" y="143.0" width="2.2" height="2.2" fill="#ce7e7e"/>
<rect x="134.6" y="143.0" width="2.2" height="2.2" fill="#ce7e7e"/>
<rect x="136.8" y="143.0" width="2.2" height="2.2" fill="#d06969"/>
<rect x="139.0" y="143.0" width="2.2" height="2.2" fill="#d82323"/>
<rect x="202.8" y="143.0" width="2.2" height="2.2" fill="#da1a1a"/>
<rect x="207.2" y="143.0" width="2.2" height="2.2" fill="#d73b3b"/>
<rect x="209.4" y="143.0" width="2.2" height="2.2" fill="#d74747"/>
<rect x="211.6" y="143.0" width="2.2" height="2.2" fill="#d65050"/>
<rect x="213.8" y="143.0" width="2.2" height="2.2" fill="#d66969"/>
<rect x="216.0" y="143.0" width="2.2" height="2.2" fill="#d67a7a"/>
<rect x="218.2" y="143.0" width="2.2" height="2.2" fill="#d68484"/>
<rect x="220.4" y="143.0" width="2.2" height="2.2" fill="#d68a8a"/>
<rect x="222.6" y="143.0" width="2.2" height="2.2" fill="#d68c8c"/>
<rect x="224.8" y="143.0" width="2.2" height="2.2" fill="#d68b8b"/>
<rect x="227.0" y="143.0" width="2.2" height="2.2" fill="#d68686"/>
<rect x="229.2" y="143.0" width="2.2" height="2.2" fill="#d77b7b"/>
<rect x="231.4" y="143.0" width="2.2" height="2.2" fill="#d76868"/>
<rect x="233.6" y="143.0" width="2.2" height="2.2" fill="#d84a4a"/>
<rect x="235.8" y="143.0" width="2.2" height="2.2" fill="#da0f0f"/>
<rect x="117.0" y="145.2" width="2.2" height="2.2" fill="#d25757"/>
<rect x="119.2" y="145.2" width="2.2" height="2.2" fill="#ce7e7e"/>
<rect x="121.4" y="145.2" width="2.2" height="2.2" fill="#ce7e7e"/>
<rect x="123.6" y="145.2" width="2.2" height="2.2" fill="#ce7e7e"/>
<rect x="125.8" y="145.2" width="2.2" height="2.2" fill="#c4acac"/>
<rect x="128.0" y="145.2" width="2.2" height="2.2" fill="#c4acac"/>
<rect x="130.2" y="145.2" width="2.2" height="2.2" fill="#ce7e7e"/>
<rect x="132.4" y="145.2" width="2.2" height="2.2" fill="#ce7e7e"/>
<rect x="134.6" y="145.2" width="2.2" height="2.2" fill="#d25555"/>
<rect x="207.2" y="145.2" width="2.2" height="2.2" fill="#da1010"/>
<rect x="209.4" y="145.2" width="2.2" height="2.2" fill="#da1c1c"/>
<rect x="211.6" y="145.2" width="2.2" height="2.2" fill="#d92424"/>
<rect x="213.8" y="145.2" width="2.2" height="2.2" fill="#d92929"/>
<rect x="216.0" y="145.2" width="2.2" height="2.2" fill="#d92b2b"/>
<rect x="218.2" y="145.2" width="2.2" height="2.2" fill="#d92a2a"/>
<rect x="220.4" y="145.2" width="2.2" height="2.2" fill="#d92727"/>
<rect x="222.6" y="145.2" width="2.2" height="2.2" fill="#d92121"/>
<rect x="224.8" y="145.2" width="2.2" height="2.2" fill="#da1717"/>
<rect x="227.0" y="145.2" width="2.2" height="2.2" fill="#db0909"/>
<rect x="112.6" y="147.4" width="2.2" height="2.2" fill="#da0d0d"/>
<rect x="114.8" y="147.4" width="2.2" height="2.2" fill="#d25959"/>
<rect x="117.0" y="147.4" width="2.2" height="2.2" fill="#ce7e7e"/>
<rect x="119.2" y="147.4" width="2.2" height="2.2" fill="#ce7e7e"/>
<rect x="121.4" y="147.4" width="2.2" height="2.2" fill="#c2b7b7"/>
<rect x="123.6" y="147.4" width="2.2" height="2.2" fill="#becdcd"/>
<rect x="125.8" y="147.4" width="2.2" height="2.2" fill="#becdcd"/>
<rect x="128.0" y="147.4" width="2.2" height="2.2" fill="#c4aeae"/>
<rect x="130.2" y="147.4" width="2.2" height="2.2" fill="#cf7171"/>
<rect x="132.4" y="147.4" width="2.2" height="2.2" fill="#d63535"/>
<rect x="110.4" y="149.6" width="2.2" height="2.2" fill="#db0707"/>
<rect x="112.6" y="149.6" width="2.2" height="2.2" fill="#d35151"/>
<rect x="114.8" y="149.6" width="2.2" height="2.2" fill="#ce7e7e"/>
<rect x="117.0" y="149.6" width="2.2" height="2.2" fill="#ce7e7e"/>
<rect x="119.2" y="149.6" width="2.2" height="2.2" fill="#becaca"/>
<rect x="121.4" y="149.6" width="2.2" height="2.2" fill="#becdcd"/>
<rect x="123.6" y="149.6" width="2.2" height="2.2" fill="#becdcd"/>
<rect x="125.8" y="149.6" width="2.2" height="2.2" fill="#c2b8b8"/>
<rect x="128.0" y="149.6" width="2.2" height="2.2" fill="#d34e4e"/>
<rect x="110.4" y="151.8" width="2.2" height="2.2" fill="#d54040"/>
<rect x="112.6" y="151.8" width="2.2" height="2.2" fill="#d06a6a"/>
<rect x="114.8" y="151.8" width="2.2" height="2.2" fill="#ce7e7e"/>
<rect x="117.0" y="151.8" width="2.2" height="2.2" fill="#c4adad"/>
<rect x="119.2" y="151.8" width="2.2" height="2.2" fill="#becdcd"/>
<rect x="121.4" y="151.8" width="2.2" height="2.2" fill="#becdcd"/>
<rect x="123.6" y="151.8" width="2.2" height="2.2" fill="#ce6e6e"/>
<rect x="125.8" y="151.8" width="2.2" height="2.2" fill="#d91a1a"/>
<rect x="110.4" y="154.0" width="2.2" height="2.2" fill="#d34c4c"/>
<rect x="112.6" y="154.0" width="2.2" height="2.2" fill="#d16262"/>
<rect x="114.8" y="154.0" width="2.2" height="2.2" fill="#d06969"/>
<rect x="117.0" y="154.0" width="2.2" height="2.2" fill="#cf6d6d"/>
<rect x="119.2" y="154.0" width="2.2" height="2.2" fill="#d44949"/>
<rect x="121.4" y="154.0" width="2.2" height="2.2" fill="#d91b1b"/>
<rect x="108.2" y="156.2" width="2.2" height="2.2" fill="#d81f1f"/>
<rect x="110.4" y="156.2" width="2.2" height="2.2" fill="#d63535"/>
<rect x="112.6" y="156.2" width="2.2" height="2.2" fill="#d53838"/>
<rect x="114.8" y="156.2" width="2.2" height="2.2" fill="#d72a2a"/>
<rect x="77.4" y="237.6" width="2.2" height="2.2" fill="#d90d0d"/>
<rect x="79.6" y="237.6" width="2.2" height="2.2" fill="#d71717"/>
<rect x="84.0" y="237.6" width="2.2" height="2.2" fill="#d52323"/>
<rect x="86.2" y="237.6" width="2.2" height="2.2" fill="#d52525"/>
<rect x="88.4" y="237.6" width="2.2" height="2.2" fill="#d52626"/>
<rect x="90.6" y="237.6" width="2.2" height="2.2" fill="#d52323"/>
<rect x="95.0" y="237.6" width="2.2" height="2.2" fill="#d71818"/>
<rect x="97.2" y="237.6" width="2.2" height="2.2" fill="#d90d0d"/>
<rect x="68.6" y="239.8" width="2.2" height="2.2" fill="#d71919"/>
<rect x="70.8" y="239.8" width="2.2" height="2.2" fill="#d42929"/>
<rect x="73.0" y="239.8" width="2.2" height="2.2" fill="#d23636"/>
<rect x="75.2" y="239.8" width="2.2" height="2.2" fill="#d04040"/>
<rect x="77.4" y="239.8" width="2.2" height="2.2" fill="#cf4848"/>
<rect x="79.6" y="239.8" width="2.2" height="2.2" fill="#cf4848"/>
<rect x="81.8" y="239.8" width="2.2" height="2.2" fill="#cf4848"/>
<rect x="84.0" y="239.8" width="2.2" height="2.2" fill="#cf4848"/>
<rect x="86.2" y="239.8" width="2.2" height="2.2" fill="#cf4848"/>
<rect x="88.4" y="239.8" width="2.2" height="2.2" fill="#cf4848"/>
<rect x="90.6" y="239.8" width="2.2" height="2.2" fill="#cf4848"/>
<rect x="92.8" y="239.8" width="2.2" height="2.2" fill="#cf4848"/>
<rect x="95.0" y="239.8" width="2.2" height="2.2" fill="#d04343"/>
<rect x="97.2" y="239.8" width="2.2" height="2.2" fill="#d13a3a"/>
<rect x="99.4" y="239.8" width="2.2" height="2.2" fill="#d32e2e"/>
<rect x="62.0" y="242.0" width="2.2" height="2.2" fill="#d90c0c"/>
<rect x="64.2" y="242.0" width="2.2" height="2.2" fill="#d52323"/>
<rect x="66.4" y="242.0" width="2.2" height="2.2" fill="#d23535"/>
<rect x="68.6" y="242.0" width="2.2" height="2.2" fill="#d26666"/>
<rect x="70.8" y="242.0" width="2.2" height="2.2" fill="#d47e7e"/>
<rect x="73.0" y="242.0" width="2.2" height="2.2" fill="#d47e7e"/>
<rect x="75.2" y="242.0" width="2.2" height="2.2" fill="#d26969"/>
<rect x="77.4" y="242.0" width="2.2" height="2.2" fill="#cf4848"/>
<rect x="79.6" y="242.0" width="2.2" height="2.2" fill="#cf4848"/>
<rect x="81.8" y="242.0" width="2.2" height="2.2" fill="#cf4848"/>
<rect x="84.0" y="242.0" width="2.2" height="2.2" fill="#cf4848"/>
<rect x="86.2" y="242.0" width="2.2" height="2.2" fill="#cf4848"/>
<rect x="88.4" y="242.0" width="2.2" height="2.2" fill="#cf4848"/>
<rect x="90.6" y="242.0" width="2.2" height="2.2" fill="#cf4848"/>
<rect x="92.8" y="242.0" width="2.2" height="2.2" fill="#cf4848"/>
<rect x="95.0" y="242.0" width="2.2" height="2.2" fill="#cf4848"/>
<rect x="97.2" y="242.0" width="2.2" height="2.2" fill="#cf4848"/>
<rect x="99.4" y="242.0" width="2.2" height="2.2" fill="#d13e3e"/>
<rect x="101.6" y="242.0" width="2.2" height="2.2" fill="#d32e2e"/>
<rect x="103.8" y="242.0" width="2.2" height="2.2" fill="#d71a1a"/>
<rect x="59.8" y="244.2" width="2.2" height="2.2" fill="#d81212"/>
<rect x="62.0" y="244.2" width="2.2" height="2.2" fill="#d42929"/>
<rect x="64.2" y="244.2" width="2.2" height="2.2" fill="#d13a3a"/>
<rect x="66.4" y="244.2" width="2.2" height="2.2" fill="#d15b5b"/>
<rect x="68.6" y="244.2" width="2.2" height="2.2" fill="#d47e7e"/>
<rect x="70.8" y="244.2" width="2.2" height="2.2" fill="#d47e7e"/>
<rect x="73.0" y="244.2" width="2.2" height="2.2" fill="#d47e7e"/>
<rect x="75.2" y="244.2" width="2.2" height="2.2" fill="#d47e7e"/>
<rect x="77.4" y="244.2" width="2.2" height="2.2" fill="#d15b5b"/>
<rect x="79.6" y="244.2" width="2.2" height="2.2" fill="#cf4848"/>
<rect x="81.8" y="244.2" width="2.2" height="2.2" fill="#cf4848"/>
<rect x="84.0" y="244.2" width="2.2" height="2.2" fill="#cf4848"/>
<rect x="86.2" y="244.2" width="2.2" height="2.2" fill="#cf4848"/>
<rect x="88.4" y="244.2" width="2.2" height="2.2" fill="#cf4848"/>
<rect x="90.6" y="244.2" width="2.2" height="2.2" fill="#cf4848"/>
<rect x="92.8" y="244.2" width="2.2" height="2.2" fill="#cf4848"/>
<rect x="95.0" y="244.2" width="2.2" height="2.2" fill="#cf4848"/>
<rect x="97.2" y="244.2" width="2.2" height="2.2" fill="#cf4747"/>
<rect x="99.4" y="244.2" width="2.2" height="2.2" fill="#d23838"/>
<rect x="101.6" y="244.2" width="2.2" height="2.2" fill="#d52626"/>
<rect x="103.8" y="244.2" width="2.2" height="2.2" fill="#d90e0e"/>
<rect x="62.0" y="246.4" width="2.2" height="2.2" fill="#d42b2b"/>
<rect x="64.2" y="246.4" width="2.2" height="2.2" fill="#d13a3a"/>
<rect x="66.4" y="246.4" width="2.2" height="2.2" fill="#cf4747"/>
<rect x="68.6" y="246.4" width="2.2" height="2.2" fill="#cf4848"/>
<rect x="70.8" y="246.4" width="2.2" height="2.2" fill="#d26666"/>
<rect x="73.0" y="246.4" width="2.2" height="2.2" fill="#d26666"/>
<rect x="75.2" y="246.4" width="2.2" height="2.2" fill="#cf4848"/>
<rect x="77.4" y="246.4" width="2.2" height="2.2" fill="#cf4848"/>
<rect x="79.6" y="246.4" width="2.2" height="2.2" fill="#cf4848"/>
<rect x="81.8" y="246.4" width="2.2" height="2.2" fill="#cf4848"/>
<rect x="84.0" y="246.4" width="2.2" height="2.2" fill="#cf4848"/>
<rect x="86.2" y="246.4" width="2.2" height="2.2" fill="#cf4848"/>
<rect x="88.4" y="246.4" width="2.2" height="2.2" fill="#cf4848"/>
<rect x="90.6" y="246.4" width="2.2" height="2.2" fill="#cf4848"/>
<rect x="92.8" y="246.4" width="2.2" height="2.2" fill="#cf4848"/>
<rect x="95.0" y="246.4" width="2.2" height="2.2" fill="#d13c3c"/>
<rect x="97.2" y="246.4" width="2.2" height="2.2" fill="#d42d2d"/>
<rect x="99.4" y="246.4" width="2.2" height="2.2" fill="#d71a1a"/>
<rect x="62.0" y="248.6" width="2.2" height="2.2" fill="#d81414"/>
<rect x="64.2" y="248.6" width="2.2" height="2.2" fill="#d52424"/>
<rect x="66.4" y="248.6" width="2.2" height="2.2" fill="#d33030"/>
<rect x="68.6" y="248.6" width="2.2" height="2.2" fill="#d13a3a"/>
<rect x="70.8" y="248.6" width="2.2" height="2.2" fill="#d04141"/>
<rect x="73.0" y="248.6" width="2.2" height="2.2" fill="#cf4646"/>
<rect x="75.2" y="248.6" width="2.2" height="2.2" fill="#cf4848"/>
<rect x="77.4" y="248.6" width="2.2" height="2.2" fill="#cf4848"/>
<rect x="79.6" y="248.6" width="2.2" height="2.2" fill="#cf4848"/>
<rect x="81.8" y="248.6" width="2.2" height="2.2" fill="#cf4848"/>
<rect x="84.0" y="248.6" width="2.2" height="2.2" fill="#d04343"/>
<rect x="86.2" y="248.6" width="2.2" height="2.2" fill="#d13d3d"/>
<rect x="88.4" y="248.6" width="2.2" height="2.2" fill="#d23434"/>
<rect x="90.6" y="248.6" width="2.2" height="2.2" fill="#d42929"/>
<rect x="92.8" y="248.6" width="2.2" height="2.2" fill="#d71b1b"/>
<rect x="95.0" y="248.6" width="2.2" height="2.2" fill="#da0707"/>
<rect x="70.8" y="250.8" width="2.2" height="2.2" fill="#da0a0a"/>
<rect x="73.0" y="250.8" width="2.2" height="2.2" fill="#d91010"/>
<rect x="75.2" y="250.8" width="2.2" height="2.2" fill="#d81212"/>
<rect x="77.4" y="250.8" width="2.2" height="2.2" fill="#d81111"/>
<rect x="79.6" y="250.8" width="2.2" height="2.2" fill="#d90e0e"/>
<rect x="81.8" y="250.8" width="2.2" height="2.2" fill="#da0808"/>
</g>
<text x="3" y="15" font-size="16.5" font-weight="bold">a</text>
<path d="M44.6 243.26H48 M44.6 233.58H48 M44.6 226.72H48 M44.6 221.39H48 M44.6 217.04H48 M44.6 213.36H48 M44.6 210.18H48 M44.6 207.36H48 M44.6 188.31H48 M44.6 178.63H48 M44.6 171.77H48 M44.6 166.44H48 M44.6 162.09H48 M44.6 158.41H48 M44.6 155.23H48 M44.6 152.41H48 M44.6 133.36H48 M44.6 123.68H48 M44.6 116.82H48 M44.6 111.49H48 M44.6 107.14H48 M44.6 103.46H48 M44.6 100.28H48 M44.6 97.46H48 M44.6 78.41H48 M44.6 68.73H48 M44.6 61.87H48 M44.6 56.54H48 M44.6 52.19H48 M44.6 48.51H48 M44.6 45.33H48 M44.6 42.51H48 M41.8 259.80H48 M41.8 204.85H48 M41.8 149.90H48 M41.8 94.95H48 M41.8 40.00H48 M49.30 261.2V263.80 M70.37 261.2V263.80 M82.70 261.2V263.80 M91.44 261.2V263.80 M98.23 261.2V263.80 M103.77 261.2V263.80 M108.46 261.2V263.80 M112.52 261.2V263.80 M116.10 261.2V263.80 M119.30 261.2V263.80 M140.37 261.2V263.80 M152.70 261.2V263.80 M161.44 261.2V263.80 M168.23 261.2V263.80 M173.77 261.2V263.80 M178.46 261.2V263.80 M182.52 261.2V263.80 M186.10 261.2V263.80 M189.30 261.2V263.80 M210.37 261.2V263.80 M222.70 261.2V263.80 M231.44 261.2V263.80 M238.23 261.2V263.80 M243.77 261.2V263.80 M248.46 261.2V263.80 M252.52 261.2V263.80 M256.10 261.2V263.80 M259.30 261.2V263.80 M280.37 261.2V263.80 M292.70 261.2V263.80 M301.44 261.2V263.80 M308.23 261.2V263.80 M313.77 261.2V263.80 M318.46 261.2V263.80 M322.52 261.2V263.80 M326.10 261.2V263.80 M329.30 261.2V263.80" stroke="#111" stroke-width="1.2" fill="none"/>
<path d="M48.0 38.8H329.0V261.2" stroke="#3c3c3c" stroke-width="1.6" fill="none"/>
<path d="M329.0 261.2H48.0V38.8" stroke="#151515" stroke-width="1.7" fill="none"/>
<path d="M195.1 38.8V261.2M48.0 189.1H329.0" stroke="#000" stroke-width="1.7" fill="none"/>
<g font-size="12" fill="#111" stroke="#111" stroke-width="0.25">
<text x="29.6" y="264.1" text-anchor="middle">1</text>
<text x="21.1" y="210.9">10<tspan font-size="8.2" dy="-4.3">1</tspan></text>
<text x="21.1" y="155.9">10<tspan font-size="8.2" dy="-4.3">2</tspan></text>
<text x="21.1" y="100.9">10<tspan font-size="8.2" dy="-4.3">3</tspan></text>
<text x="21.1" y="46.0">10<tspan font-size="8.2" dy="-4.3">4</tspan></text>
<text x="49.3" y="282.4" text-anchor="middle">1</text>
<text x="110.8" y="282.6">10<tspan font-size="8.2" dy="-4.3">1</tspan></text>
<text x="179.8" y="282.6">10<tspan font-size="8.2" dy="-4.3">2</tspan></text>
<text x="249.6" y="282.6">10<tspan font-size="8.2" dy="-4.3">3</tspan></text>
<text x="318.3" y="282.6">10<tspan font-size="8.2" dy="-4.3">4</tspan></text>
</g>
<g font-size="12" font-weight="bold" fill="#111">
<text x="75.4" y="131.6">Bacteria</text>
<text x="259.2" y="53.8">Beads</text>
<text x="261.6" y="148.2">Algae</text>
<text x="68.4" y="308.1">Chlorophyll fluorescence (channel FL3-H)</text>
<text font-size="11.8" transform="translate(10.6 270.7) rotate(-90)">SYBR Green I fluorescence (channel FL1-H)</text>
</g>
<text x="354.6" y="14" font-size="16" font-weight="bold">b</text>
<path d="M427.1 44.40V262.9H663.20 M424.8 263.20H427.1 M427.60 262.9V265.2 M424.8 208.50H427.1 M486.50 262.9V265.2 M424.8 153.80H427.1 M545.40 262.9V265.2 M424.8 99.10H427.1 M604.30 262.9V265.2 M424.8 44.40H427.1 M663.20 262.9V265.2" stroke="#ababab" stroke-width="1.4" fill="none"/>
<path d="M448.22 237.33L596.1 74.1" stroke="#a8a8a8" stroke-width="0.9" fill="none"/>
<path d="M596.1 31.0V118.0M594.2 31.0H598.0M594.2 118.0H598.0 M512.5 146.4V190.7M510.6 146.4H514.4M510.6 190.7H514.4 M471.6 204.5V225.8M469.70000000000005 204.5H473.5M469.70000000000005 225.8H473.5 M449.2 216.2V233.7M447.3 216.2H451.09999999999997M447.3 233.7H451.09999999999997 M447.0 236.0V242.0M445.1 236.0H448.9M445.1 242.0H448.9 M441.5 239.6V248.2M439.6 239.6H443.4M439.6 248.2H443.4 M438.6 247.7V253.5M436.70000000000005 247.7H440.5M436.70000000000005 253.5H440.5 M435.5 249.5V254.5M433.6 249.5H437.4M433.6 254.5H437.4 M433.8 250.0V255.9M431.90000000000003 250.0H435.7M431.90000000000003 255.9H435.7" stroke="#262626" stroke-width="1.9" fill="none"/>
<path d="M587.8 74.1H604.4M587.8 72.8V75.39999999999999M604.4 72.8V75.39999999999999 M466.7 215.5H477.4M466.7 214.2V216.8M477.4 214.2V216.8 M446.9 224.5H451.5M446.9 223.2V225.8M451.5 223.2V225.8 M438.2 243.9H444.8M438.2 242.6V245.20000000000002M444.8 242.6V245.20000000000002" stroke="#262626" stroke-width="1.5" fill="none"/>
<g font-size="12" fill="#1a1a1a" stroke="#1a1a1a" stroke-width="0.25">
<text x="419.9" y="266.8" text-anchor="end">0</text>
<text x="383.0" y="212.7" letter-spacing="0.2">1 x 10<tspan font-size="7.5" dy="-4.4">7</tspan></text>
<text x="383.0" y="158.0" letter-spacing="0.2">2 x 10<tspan font-size="7.5" dy="-4.4">7</tspan></text>
<text x="383.0" y="103.3" letter-spacing="0.2">3 x 10<tspan font-size="7.5" dy="-4.4">7</tspan></text>
<text x="383.0" y="48.6" letter-spacing="0.2">4 x 10<tspan font-size="7.5" dy="-4.4">7</tspan></text>
<text x="427.6" y="282.6" text-anchor="middle">0</text>
<text x="468.5" y="282.8" letter-spacing="0.2">1 x 10<tspan font-size="7.5" dy="-4.4">7</tspan></text>
<text x="527.8" y="282.8" letter-spacing="0.2">2 x 10<tspan font-size="7.5" dy="-4.4">7</tspan></text>
<text x="587.6" y="282.8" letter-spacing="0.2">3 x 10<tspan font-size="7.5" dy="-4.4">7</tspan></text>
<text x="646.6" y="282.8" letter-spacing="0.2">4 x 10<tspan font-size="7.5" dy="-4.4">7</tspan></text>
</g>
<g font-size="11.6" fill="#1a1a1a" stroke="#1a1a1a" stroke-width="0.2">
<text x="552.8" y="159.0">y = 1.1835x + 587277</text>
<text x="577.2" y="174.4">R<tspan font-size="7.6" dy="-4.6">2</tspan><tspan dy="4.6"> = 0.9943</tspan></text>
</g>
<g font-size="12" font-weight="bold" fill="#111">
<text x="419.2" y="308.3">Cell density from flow cytometry [cells ml<tspan font-size="7.5" dy="-4.6">-1</tspan><tspan dy="4.6">]</tspan></text>
<text transform="translate(374.6 292.7) rotate(-90)">Cell density from counting chamber [cells ml<tspan font-size="7.5" dy="-4.6">-1</tspan><tspan dy="4.6">]</tspan></text>
</g>
</svg></body></html>
